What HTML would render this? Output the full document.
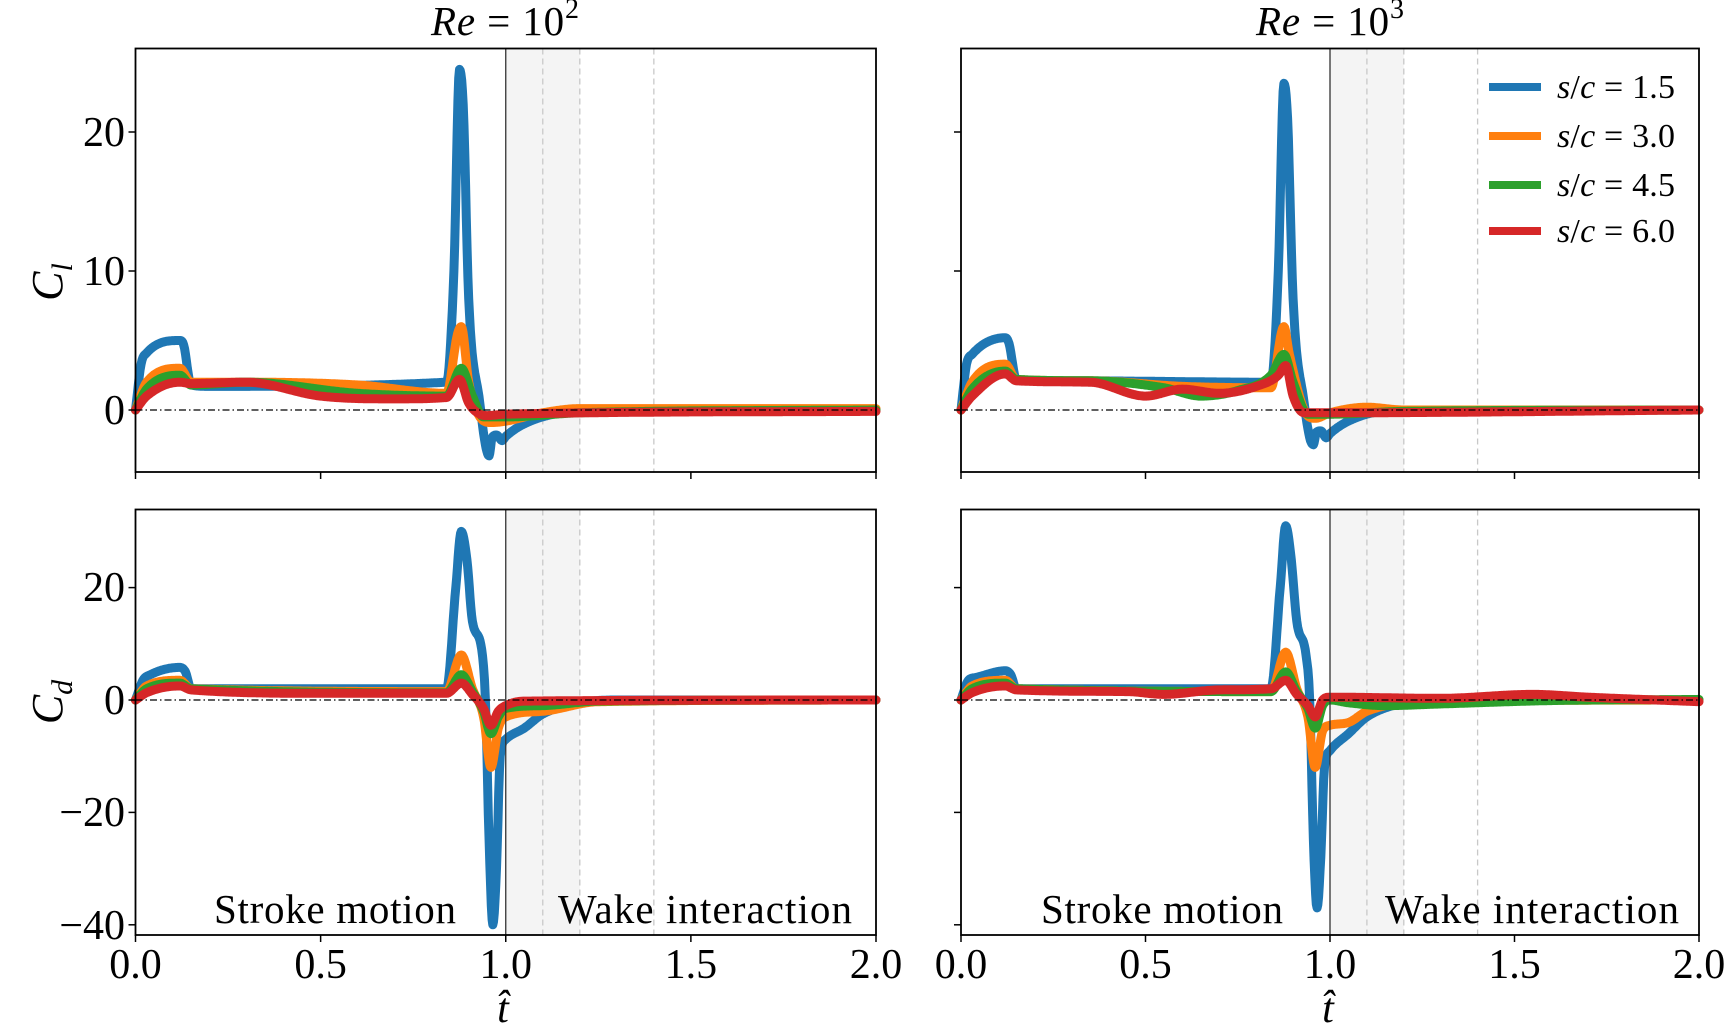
<!DOCTYPE html>
<html><head><meta charset="utf-8"><style>
html,body{margin:0;padding:0;background:#fff}
svg{display:block}
text{font-family:"Liberation Serif",serif;fill:#000}
</style></head><body>
<svg id="s" width="1724" height="1027" viewBox="0 0 1724 1027" xmlns="http://www.w3.org/2000/svg">
<g id="bg"></g>
<g id="curves"></g>
<g id="fr"></g>
<text x="431" y="35" font-size="41" textLength="148" lengthAdjust="spacing"><tspan font-style="italic">Re</tspan> = 10<tspan dy="-17" font-size="28">2</tspan></text>
<text x="1256" y="35" font-size="41" textLength="148" lengthAdjust="spacing"><tspan font-style="italic">Re</tspan> = 10<tspan dy="-17" font-size="28">3</tspan></text>
<text transform="translate(62,282) rotate(-90)" font-size="44" text-anchor="middle" font-style="italic">C<tspan font-size="30" dy="10">l</tspan></text>
<text transform="translate(62,702) rotate(-90)" font-size="44" text-anchor="middle" font-style="italic">C<tspan font-size="30" dy="10">d</tspan></text>
<g font-size="42" text-anchor="end">
<text x="125" y="146">20</text>
<text x="125" y="285">10</text>
<text x="125" y="424">0</text>
<text x="125" y="601">20</text>
<text x="125" y="714">0</text>
<text x="125" y="826">−20</text>
<text x="125" y="939">−40</text>
</g>
<g font-size="42" text-anchor="middle">
<text x="135.5" y="978">0.0</text><text x="320.6" y="978">0.5</text><text x="505.8" y="978">1.0</text><text x="690.9" y="978">1.5</text><text x="876" y="978">2.0</text>
<text x="961" y="978">0.0</text><text x="1145.5" y="978">0.5</text><text x="1330" y="978">1.0</text><text x="1514.5" y="978">1.5</text><text x="1699" y="978">2.0</text>
</g>
<text x="503" y="1022" font-size="42" text-anchor="middle" font-style="italic">t̂</text>
<text x="1328" y="1022" font-size="42" text-anchor="middle" font-style="italic">t̂</text>
<g font-size="41">
<text x="214" y="923" textLength="242">Stroke motion</text>
<text x="558" y="923" textLength="294">Wake interaction</text>
<text x="1041" y="923" textLength="242">Stroke motion</text>
<text x="1385" y="923" textLength="294">Wake interaction</text>
</g>
<g stroke-width="8">
<line x1="1489" y1="87" x2="1541" y2="87" stroke="#1f77b4"/>
<line x1="1489" y1="136" x2="1541" y2="136" stroke="#ff7f0e"/>
<line x1="1489" y1="185" x2="1541" y2="185" stroke="#2ca02c"/>
<line x1="1489" y1="231" x2="1541" y2="231" stroke="#d62728"/>
</g>
<g font-size="34">
<text x="1557" y="98" textLength="118" lengthAdjust="spacing"><tspan font-style="italic">s</tspan>/<tspan font-style="italic">c</tspan> = 1.5</text>
<text x="1557" y="147" textLength="118" lengthAdjust="spacing"><tspan font-style="italic">s</tspan>/<tspan font-style="italic">c</tspan> = 3.0</text>
<text x="1557" y="196" textLength="118" lengthAdjust="spacing"><tspan font-style="italic">s</tspan>/<tspan font-style="italic">c</tspan> = 4.5</text>
<text x="1557" y="242" textLength="118" lengthAdjust="spacing"><tspan font-style="italic">s</tspan>/<tspan font-style="italic">c</tspan> = 6.0</text>
</g>
</svg>
<script>
var NS="http://www.w3.org/2000/svg";
function el(p,tag,a){var e=document.createElementNS(NS,tag);for(var k in a)e.setAttribute(k,a[k]);document.getElementById(p).appendChild(e);return e;}
function mono(pts){
 var n=pts.length,xs=pts.map(p=>p[0]),ys=pts.map(p=>p[1]),d=[],m=[];
 for(var i=0;i<n-1;i++)d.push((ys[i+1]-ys[i])/(xs[i+1]-xs[i]));
 m[0]=d[0];m[n-1]=d[n-2];
 for(i=1;i<n-1;i++){m[i]=(d[i-1]*d[i]<=0)?0:(d[i-1]+d[i])/2;}
 for(i=0;i<n-1;i++){if(d[i]==0){m[i]=0;m[i+1]=0;continue;}var a=m[i]/d[i],b=m[i+1]/d[i],s=a*a+b*b;if(s>9){var t=3/Math.sqrt(s);m[i]=t*a*d[i];m[i+1]=t*b*d[i];}}
 var out=[];
 for(i=0;i<n-1;i++){var h=xs[i+1]-xs[i],N=Math.max(2,Math.ceil(h*400));
  for(var k=0;k<N;k++){var t=k/N,t2=t*t,t3=t2*t;
   var y=(2*t3-3*t2+1)*ys[i]+(t3-2*t2+t)*h*m[i]+(-2*t3+3*t2)*ys[i+1]+(t3-t2)*h*m[i+1];
   out.push([xs[i]+t*h,y]);}}
 out.push(pts[n-1]);return out;}
var panels=[
 {x0:135.5,x1:876,y0:48.5,y1:472,z:410,s:13.9,ticks:[20,10,0]},
 {x0:961,x1:1699,y0:48.5,y1:472,z:410,s:13.9,ticks:[20,10,0]},
 {x0:135.5,x1:876,y0:509.5,y1:935,z:700,s:5.62,ticks:[20,0,-20,-40]},
 {x0:961,x1:1699,y0:509.5,y1:935,z:700,s:5.62,ticks:[20,0,-20,-40]}
];
var C=["#1f77b4","#ff7f0e","#2ca02c","#d62728"];
var D=[
[
[[0,0],[0.015,3.3],[0.03,4.1],[0.12,5],[0.13,4.7],[0.15,1.8],[0.2,1.7],[0.84,2],[0.86,10],[0.875,24.5],[0.885,22],[0.9,8],[0.93,0.5],[0.945,-2.5],[0.955,-3.3],[0.963,-2],[0.975,-1.8],[0.99,-2.2],[1.0,-1.9],[1.05,-1],[1.15,-0.2],[1.3,0],[2,0]],
[[0,0],[0.03,2],[0.12,3],[0.15,2],[0.3,2],[0.6,1.8],[0.84,1.2],[0.87,5.5],[0.88,6],[0.9,2],[0.93,-0.5],[0.96,-0.9],[1.0,-0.8],[1.1,-0.2],[1.2,0.1],[2,0.1]],
[[0,0],[0.03,1.5],[0.12,2.5],[0.15,1.8],[0.3,2],[0.6,1.2],[0.84,1],[0.88,3],[0.91,1],[0.94,-0.5],[1,-0.5],[1.2,-0.2],[2,0]],
[[0,0],[0.03,1],[0.12,2],[0.15,1.9],[0.3,2],[0.5,1],[0.7,0.8],[0.84,0.9],[0.875,2.2],[0.9,0.5],[0.93,-0.3],[0.95,-0.4],[1,-0.3],[2,-0.1]]
],
[
[[0,0],[0.015,3.3],[0.03,4],[0.12,5.2],[0.13,4.8],[0.15,2.2],[0.3,2.1],[0.84,2],[0.86,10],[0.875,23.5],[0.885,21],[0.9,8],[0.93,0.5],[0.945,-2],[0.955,-2.5],[0.963,-1.6],[0.975,-1.5],[0.99,-2],[1.0,-1.7],[1.05,-0.8],[1.15,-0.1],[2,0]],
[[0,0],[0.03,2],[0.12,3.3],[0.15,2.2],[0.35,2.1],[0.6,1.7],[0.84,1.6],[0.875,6],[0.89,4],[0.93,0],[0.96,-0.6],[1.0,-0.2],[1.1,0.2],[1.2,0],[2,0]],
[[0,0],[0.03,1.5],[0.12,2.8],[0.15,2.2],[0.35,2.1],[0.55,1.6],[0.65,1],[0.75,1.4],[0.84,2.5],[0.875,4],[0.9,2],[0.94,-0.3],[1,-0.3],[1.2,-0.1],[2,0]],
[[0,0],[0.03,1],[0.12,2.6],[0.15,2.1],[0.35,2],[0.5,1],[0.6,1.5],[0.7,1.2],[0.8,1.7],[0.86,2.5],[0.88,3.2],[0.9,1],[0.93,-0.2],[1,-0.2],[2,0]]
],
[
[[0,0],[0.02,3.5],[0.04,4.5],[0.12,5.8],[0.135,5],[0.15,2],[0.84,2],[0.865,20],[0.88,30],[0.895,25],[0.91,14],[0.935,9],[0.945,0],[0.955,-25],[0.965,-40],[0.975,-30],[0.985,-10],[1.0,-7],[1.05,-5],[1.1,-2.5],[1.2,-0.5],[1.3,0],[2,0]],
[[0,0],[0.03,2.5],[0.12,3.5],[0.15,2],[0.84,1.5],[0.88,8],[0.91,2],[0.94,-3],[0.96,-12],[0.98,-5],[1.0,-3],[1.1,-2],[1.25,-0.3],[2,0]],
[[0,0],[0.03,2],[0.12,3],[0.15,2],[0.84,1.3],[0.88,4.5],[0.91,1.5],[0.94,-2],[0.96,-6],[0.98,-3],[1.0,-1.5],[1.1,-1],[1.25,-0.2],[2,0]],
[[0,0],[0.03,1.3],[0.12,2.5],[0.15,1.8],[0.5,1.2],[0.84,1.2],[0.88,3],[0.91,1],[0.94,-1.5],[0.96,-4.5],[0.98,-2],[1.0,-1],[1.05,-0.2],[2,0]]
],
[
[[0,0],[0.02,3.5],[0.04,4],[0.12,5.2],[0.135,4.5],[0.15,2],[0.84,2],[0.865,20],[0.88,31],[0.895,25],[0.91,14],[0.935,8],[0.945,0],[0.955,-25],[0.965,-37],[0.975,-28],[0.985,-12],[1.0,-9],[1.05,-6],[1.1,-3],[1.2,-0.5],[1.3,0],[2,0]],
[[0,0],[0.03,2.5],[0.12,3.5],[0.15,2],[0.84,1.5],[0.88,8.5],[0.91,2],[0.94,-3],[0.96,-12],[0.98,-5.5],[1.0,-4.5],[1.05,-4],[1.1,-2],[1.25,-0.3],[2,0]],
[[0,0],[0.03,2],[0.12,3],[0.15,2],[0.84,1.5],[0.88,5],[0.91,1.5],[0.94,-1.5],[0.96,-5],[0.98,-1],[1.0,0],[1.05,-0.5],[1.15,-1],[1.3,-0.7],[1.6,-0.1],[2,0.1]],
[[0,0],[0.03,1.3],[0.12,2.5],[0.15,1.8],[0.45,1.5],[0.55,1],[0.7,1.8],[0.84,2],[0.88,3.5],[0.91,1],[0.94,-1],[0.96,-3],[0.98,0],[1.0,0.5],[1.3,0.3],[1.55,1],[1.7,0.5],[2,-0.3]]
]];
panels.forEach(function(P,i){
 var X=function(t){return P.x0+(P.x1-P.x0)*t/2},Y=function(v){return P.z-v*P.s};
 el("bg","rect",{x:X(1),y:P.y0,width:X(1.2)-X(1),height:P.y1-P.y0,fill:"#f4f4f4"});
 [1.1,1.2,1.4].forEach(function(t){el("bg","line",{x1:X(t),x2:X(t),y1:P.y0,y2:P.y1,stroke:"#c8c8c8","stroke-width":1.3,"stroke-dasharray":"6,4"});});
 D[i].forEach(function(pts,k){
  var d=mono(pts).map(function(p,j){return (j?"L":"M")+X(p[0]).toFixed(1)+","+Y(p[1]).toFixed(1)}).join("");
  el("curves","path",{d:d,fill:"none",stroke:C[k],"stroke-width":9,"stroke-linejoin":"round","stroke-linecap":"round"});
 });
 el("fr","line",{x1:P.x0,x2:P.x1,y1:P.z,y2:P.z,stroke:"#000","stroke-width":1.2,"stroke-dasharray":"7,3,1.5,3"});
 el("fr","line",{x1:X(1),x2:X(1),y1:P.y0,y2:P.y1,stroke:"#333","stroke-width":1.3});
 el("fr","rect",{x:P.x0,y:P.y0,width:P.x1-P.x0,height:P.y1-P.y0,fill:"none",stroke:"#000","stroke-width":1.8});
 [0,0.5,1,1.5,2].forEach(function(t){el("fr","line",{x1:X(t),x2:X(t),y1:P.y1,y2:P.y1+7,stroke:"#000","stroke-width":1.5});});
 P.ticks.forEach(function(v){el("fr","line",{x1:P.x0-7,x2:P.x0,y1:Y(v),y2:Y(v),stroke:"#000","stroke-width":1.5});});
});
</script>
</body></html>
